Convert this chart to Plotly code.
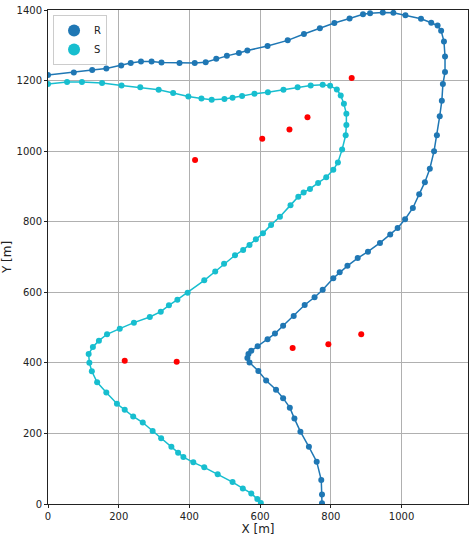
import plotly.graph_objects as go

r_x = [0, 73, 125, 165, 207, 234, 263, 293, 321, 372, 415, 446, 476, 506, 540, 564, 621, 678, 724, 769, 810, 853, 891, 911, 947, 977, 1011, 1055, 1084, 1102, 1112, 1120, 1123, 1123, 1117, 1114, 1108, 1100, 1092, 1080, 1066, 1050, 1032, 1010, 989, 968, 939, 905, 876, 847, 825, 807, 777, 754, 726, 695, 665, 642, 621, 593, 575, 567, 564, 570, 595, 617, 645, 665, 684, 697, 714, 738, 760, 773, 775, 775]
r_y = [1216, 1223, 1230, 1234, 1243, 1250, 1254, 1254, 1251, 1250, 1250, 1252, 1262, 1270, 1278, 1285, 1298, 1314, 1332, 1348, 1363, 1376, 1388, 1391, 1393, 1392, 1385, 1375, 1364, 1356, 1341, 1311, 1268, 1224, 1190, 1143, 1099, 1045, 1000, 950, 912, 878, 839, 807, 782, 764, 740, 715, 697, 675, 657, 640, 607, 586, 564, 533, 505, 483, 467, 447, 434, 425, 414, 401, 377, 350, 324, 300, 273, 242, 205, 162, 120, 68, 27, 2]

s_x = [0, 54, 96, 153, 208, 261, 313, 354, 397, 434, 463, 499, 522, 549, 584, 622, 666, 706, 743, 777, 798, 817, 828, 837, 844, 844, 842, 832, 820, 807, 787, 764, 741, 723, 708, 686, 656, 631, 608, 588, 570, 552, 529, 498, 473, 442, 395, 366, 342, 319, 288, 243, 203, 167, 144, 127, 115, 117, 124, 139, 165, 195, 217, 241, 268, 296, 320, 349, 368, 383, 411, 442, 480, 522, 551, 575, 592, 602]
s_y = [1190, 1196, 1196, 1193, 1186, 1181, 1174, 1165, 1155, 1149, 1146, 1148, 1151, 1156, 1163, 1167, 1174, 1181, 1186, 1188, 1185, 1175, 1158, 1134, 1106, 1074, 1045, 1005, 968, 947, 926, 910, 893, 883, 871, 847, 814, 791, 767, 750, 734, 720, 705, 681, 659, 634, 599, 579, 563, 545, 530, 514, 497, 481, 463, 445, 425, 400, 376, 345, 316, 284, 267, 248, 231, 207, 186, 162, 145, 133, 118, 104, 84, 62, 44, 30, 14, 3]

red_x = [416, 606, 683, 734, 859, 217, 364, 692, 793, 886]
red_y = [975, 1035, 1061, 1096, 1207, 406, 403, 442, 453, 481]

R_COLOR = "#1f77b4"
S_COLOR = "#17becf"

fig = go.Figure()
for xs, ys, col, name in [(r_x, r_y, R_COLOR, "R"), (s_x, s_y, S_COLOR, "S")]:
    fig.add_trace(go.Scatter(x=xs, y=ys, mode="lines", line=dict(color=col, width=1.5),
                             showlegend=False, hoverinfo="skip"))
    fig.add_trace(go.Scatter(x=xs, y=ys, mode="markers", name=name,
                             marker=dict(color=col, size=6)))

fig.add_trace(go.Scatter(x=red_x, y=red_y, mode="markers", showlegend=False,
                         marker=dict(color="red", size=6)))

fig.update_layout(
    width=474, height=539,
    margin=dict(l=48, r=6, t=10, b=35),
    plot_bgcolor="white", paper_bgcolor="white",
    font=dict(family="DejaVu Sans", size=10, color="#222"),
    legend=dict(x=0.012, y=0.99, xanchor="left", yanchor="top",
                bgcolor="rgba(255,255,255,0.9)", bordercolor="#cccccc", borderwidth=1,
                itemsizing="constant", itemwidth=30, font=dict(size=10)),
)
axis_common = dict(showline=True, linecolor="#222", linewidth=1, mirror=True,
                   showgrid=True, gridcolor="#b0b0b0", gridwidth=1,
                   ticks="outside", ticklen=3, tickcolor="#222", zeroline=False,
                   automargin=False)
fig.update_xaxes(range=[0, 1188], tickvals=[0, 200, 400, 600, 800, 1000],
                 title=dict(text="X [m]", standoff=2), **axis_common)
fig.update_yaxes(range=[0, 1400], tickvals=[0, 200, 400, 600, 800, 1000, 1200, 1400],
                 title=dict(text="Y [m]", standoff=4), **axis_common)

fig.write_html("out.html", config={"displayModeBar": False},
               post_script="document.body.style.margin='0';document.body.style.overflow='hidden';")
